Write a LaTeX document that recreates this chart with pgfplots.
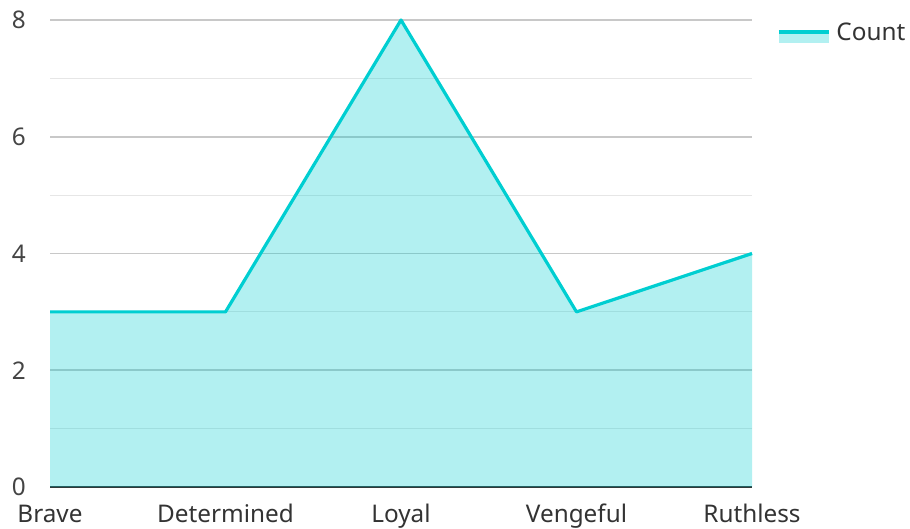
\documentclass[border=0pt]{standalone}
\usepackage{fontspec}
\setmainfont{Noto Sans}
\usepackage{pgfplots}
\pgfplotsset{compat=1.18}
\definecolor{turq}{HTML}{00CED1}
\definecolor{ticktext}{HTML}{444444}
\definecolor{majgrid}{HTML}{C8C8C8}
\definecolor{mingrid}{HTML}{E6E6E6}
\definecolor{axisdark}{HTML}{333333}

% axis lines above the filled area, grid below it
\pgfplotsset{
    layers/gridbelow/.define layer set={
        axis background,axis grid,axis ticks,main,axis lines,axis tick labels,axis descriptions,axis foreground
    }{},
}

\begin{document}
\begin{tikzpicture}
\begin{axis}[
    name=ax,
    set layers=gridbelow,
    scale only axis,
    width=702bp, height=467bp,
    xmin=0, xmax=4, ymin=0, ymax=8,
    clip=false,
    axis x line*=bottom,
    axis y line*=left,
    x axis line style={-, color=axisdark, line width=2bp},
    y axis line style={draw=none},
    xtick={0,1,2,3,4},
    xticklabels={Brave,Determined,Loyal,Vengeful,Ruthless},
    ytick={0,2,4,6,8},
    minor ytick={1,3,5,7},
    major tick length=0pt, minor tick length=0pt,
    ymajorgrids, yminorgrids,
    major grid style={color=majgrid, line width=1.6bp},
    minor grid style={color=mingrid, line width=1.2bp},
    /pgf/number format/assume math mode=true,
    ticklabel style={font=\fontsize{24.3bp}{29bp}\selectfont, text=ticktext},
    yticklabel style={anchor=east, inner sep=0pt, xshift=-24bp},
    xticklabel style={anchor=north, inner sep=0pt, text height=17bp, text depth=0pt, yshift=-18bp, text=axisdark},
    legend style={draw=none, fill=none, inner sep=0pt, outer sep=0pt,
        at={(1,1)}, anchor=north west, xshift=25bp, yshift=-0.5bp,
        font=\fontsize{24.3bp}{29bp}\selectfont, text=axisdark},
    legend cell align=left,
]
\addplot[fill=turq, fill opacity=0.3, draw=none, forget plot]
    coordinates {(0,3) (1,3) (2,8) (3,3) (4,4)} \closedcycle;
\addplot[turq, line width=3.2bp, line join=round,
    legend image code/.code={
        \path[draw=none, fill=turq, fill opacity=0.3] (0bp,-11bp) rectangle (50bp,0bp);
        \path[draw=turq, line width=3.5bp] (0bp,0bp) -- (50bp,0bp);
    }]
    coordinates {(0,3) (1,3) (2,8) (3,3) (4,4)};
\addlegendentry{\hspace{4bp}Count}
\end{axis}
\pgfresetboundingbox
\path (ax.south west) ++(-50bp,-42bp) rectangle ++(910bp,529bp);
\end{tikzpicture}
\end{document}
